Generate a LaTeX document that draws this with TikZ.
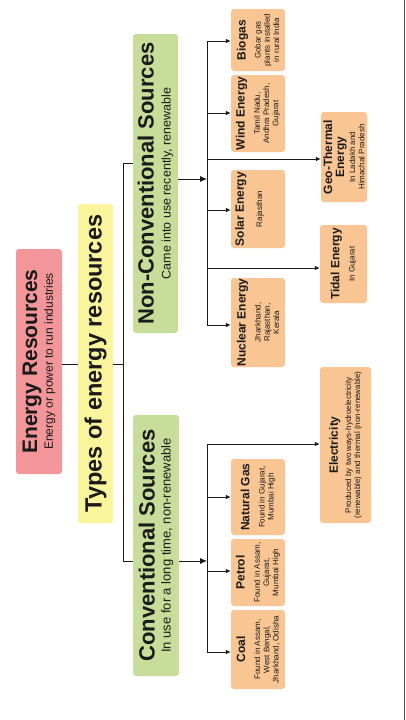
\documentclass[tikz,border=0pt]{standalone}
\usepackage{fontspec}
\setmainfont{Liberation Sans}
\usetikzlibrary{arrows.meta}
\definecolor{pinkbox}{HTML}{F2969A}
\definecolor{greenbox}{HTML}{C9DD9B}
\definecolor{yellowbox}{HTML}{FAF59C}
\definecolor{orangebox}{HTML}{F9C592}
\definecolor{ink}{HTML}{1A1A1A}
\newcommand{\bt}[1]{{\bfseries\fontsize{12}{14}\selectfont #1}}
\begin{document}
\begin{tikzpicture}[x=1pt,y=-1pt,
  box/.style={rounded corners=3pt, rotate=90, inner sep=0pt, align=center, text=ink},
  obox/.style={box, fill=orangebox, minimum height=54pt, font=\fontsize{8}{9.2}\selectfont},
  conn/.style={draw=ink, line width=0.8pt},
  arr/.style={conn, -{Latex[length=5pt,width=4.5pt]}},
  barr/.style={conn, -{Latex[length=7pt,width=6pt]}},
  darr/.style={conn, {Latex[length=5pt,width=4.5pt]}-{Latex[length=5pt,width=4.5pt]}}]
\useasboundingbox (0,0) rectangle (405,720);
\fill[white] (0,0) rectangle (405,720);

% main boxes
\node[box, fill=pinkbox, minimum width=225pt, minimum height=46pt] (er) at (39,361.5)
  {{\bfseries\fontsize{21}{24}\selectfont Energy Resources}\\[1.5pt]{\fontsize{12}{14}\selectfont Energy or power to run industries}};
\node[box, fill=yellowbox, minimum width=319pt, minimum height=35pt, font=\bfseries\fontsize{23.5}{28}\selectfont] (types) at (95.5,363.5)
  {Types of energy resources};
\node[box, fill=greenbox, minimum width=299pt, minimum height=45pt] (nc) at (155.5,183.5)
  {{\bfseries\fontsize{22}{25}\selectfont Non-Conventional Sources}\\[5pt]{\fontsize{12.5}{14}\selectfont Came into use recently, renewable}};
\node[box, fill=greenbox, minimum width=261pt, minimum height=46pt] (conv) at (156,545.5)
  {{\bfseries\fontsize{22}{25}\selectfont Conventional Sources}\\[4pt]{\fontsize{13}{14}\selectfont In use for a long time, non-renewable}};

% orange boxes
\node[obox, minimum width=62pt] (bio) at (258,40) {\bt{Biogas}\\[6pt]Gobar gas\\plants installed\\in rural India};
\node[obox, minimum width=77pt] (wind) at (258,113.5) {\bt{Wind Energy}\\[6pt]Tamil Nadu,\\Andhra Pradesh,\\Gujarat};
\node[obox, minimum width=78pt] (solar) at (258,209) {\bt{Solar Energy}\\[9pt]Rajasthan\\[9.5pt]\mbox{}};
\node[obox, minimum width=89pt] (nuc) at (258,322.5) {\bt{Nuclear Energy}\\[6pt]Jharkhand,\\Rajasthan,\\Kerala};
\node[obox, minimum width=90pt, minimum height=46pt] (geo) at (344,157) {\bt{Geo-Thermal}\\[2.8pt]\bt{Energy}\\[1.8pt]In Ladakh and\\Himachal Pradesh};
\node[obox, minimum width=78pt, minimum height=47pt] (tidal) at (343.5,264) {\bt{Tidal Energy}\\[6pt]In Gujarat};
\node[obox, minimum width=156pt, minimum height=51pt] (elec) at (345.5,445) {\bt{Electricity}\\[4pt]Produced by two ways-hydroelectricity\\(renewable) and thermal (non-renewable)};
\node[obox, minimum width=76pt] (gas) at (258,497) {\bt{Natural Gas}\\[6pt]Found in Gujarat,\\Mumbai High};
\node[obox, minimum width=67pt] (petrol) at (258,572.5) {\bt{Petrol}\\[6pt]Found in Assam,\\Gujarat,\\Mumbai High};
\node[obox, minimum width=79pt] (coal) at (258,649.5) {\bt{Coal}\\[6pt]Found in Assam,\\West Bengal,\\Jharkhand, Odisha};

% trunk
\coordinate (tj) at (123,364);
\coordinate (ttop) at (123,163);
\coordinate (tbot) at (123,561);
\draw[conn] (er.south |- tj) -- (types.north |- tj);
\draw[conn] (types.south |- tj) -- (tj);
\draw[conn] (nc.north |- ttop) -- (ttop) -- (tbot) -- (conv.north |- tbot);

% non-conventional bus
\coordinate (nbus) at (207,179);
\coordinate (ntop) at (207,41);
\coordinate (nbot) at (207,325);
\coordinate (nw) at (207,113);
\coordinate (ng) at (207,159);
\coordinate (ns) at (207,210);
\coordinate (nt) at (207,268);
\draw[barr] (nc.south |- nbus) -- (nbus);
\draw[darr] (bio.north |- ntop) -- (ntop) -- (nbot) -- (nuc.north |- nbot);
\draw[arr] (nw) -- (wind.north |- nw);
\draw[arr] (ng) -- (geo.north |- ng);
\draw[arr] (ns) -- (solar.north |- ns);
\draw[arr] (nt) -- (tidal.north |- nt);

% conventional bus
\coordinate (cbus) at (207,561);
\coordinate (ctop) at (207,444);
\coordinate (cbot) at (207,652);
\coordinate (cg) at (207,497);
\coordinate (cp) at (207,571);
\draw[barr] (conv.south |- cbus) -- (cbus);
\draw[darr] (elec.north |- ctop) -- (ctop) -- (cbot) -- (coal.north |- cbot);
\draw[arr] (cg) -- (gas.north |- cg);
\draw[arr] (cp) -- (petrol.north |- cp);

% right edge line
\draw[draw=gray!60!black, line width=0.6pt] (404,0) -- (404,720);
\end{tikzpicture}
\end{document}
